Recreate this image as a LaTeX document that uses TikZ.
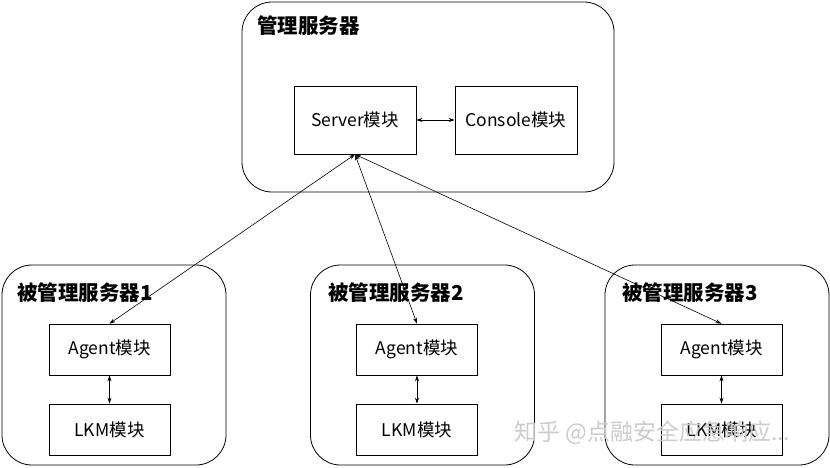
\documentclass[tikz,border=0pt]{standalone}
\usepackage{fontspec}
\setmainfont{Noto Sans CJK SC}
\usepackage{tikz}
\usetikzlibrary{arrows.meta,positioning}

\begin{document}
\begin{tikzpicture}[
  x=1pt,y=-1pt,
  host/.style={rectangle,draw,rounded corners=30pt,line width=0.8pt,inner sep=0pt},
  title/.style={anchor=west,inner sep=0pt,font=\fontsize{20.5}{22}\selectfont\bfseries},
  module/.style={rectangle,draw,line width=0.7pt,inner sep=0pt,font=\fontsize{17.5}{19}\selectfont},
  link/.style={{Stealth[length=6pt,width=4pt]}-{Stealth[length=6pt,width=4pt]},line width=0.6pt},
]
\useasboundingbox (0,0) rectangle (830,468);

% management server
\node [host,minimum width=372pt,minimum height=190pt] (mgr) at (428,97) {};
\node [title] (mgrtitle) at (257,26) {管理服务器};
\node [module,minimum width=122pt,minimum height=68pt] (srv) at (355,120) {Server模块};
\node [module,minimum width=122pt,minimum height=68pt] (con) at (516,120) {Console模块};
\draw [link] (srv) -- (con);

% managed servers
\foreach \i/\hx/\mx/\tx in {1/114/109.5/17, 2/422.5/417/328, 3/717/721.5/622} {
  \node [host,minimum width=224pt,minimum height=200pt] (host\i) at (\hx,365) {};
  \node [title] (title\i) at (\tx,293) {被管理服务器\i};
  \node [module,minimum width=121pt,minimum height=51pt] (agent\i) at (\mx,349.5) {Agent模块};
  \node [module,minimum width=121pt,minimum height=51pt] (lkm\i) at (\mx,429.5) {LKM模块};
  \draw [link] (agent\i) -- (lkm\i);
  \draw [link] (srv.south) -- (agent\i.north);
}

% watermark
\node [anchor=west,inner sep=0pt,text=black!20,font=\fontsize{23}{24}\selectfont] (mark) at (514,433) {知乎 @点融安全应急响应...};
\end{tikzpicture}
\end{document}
